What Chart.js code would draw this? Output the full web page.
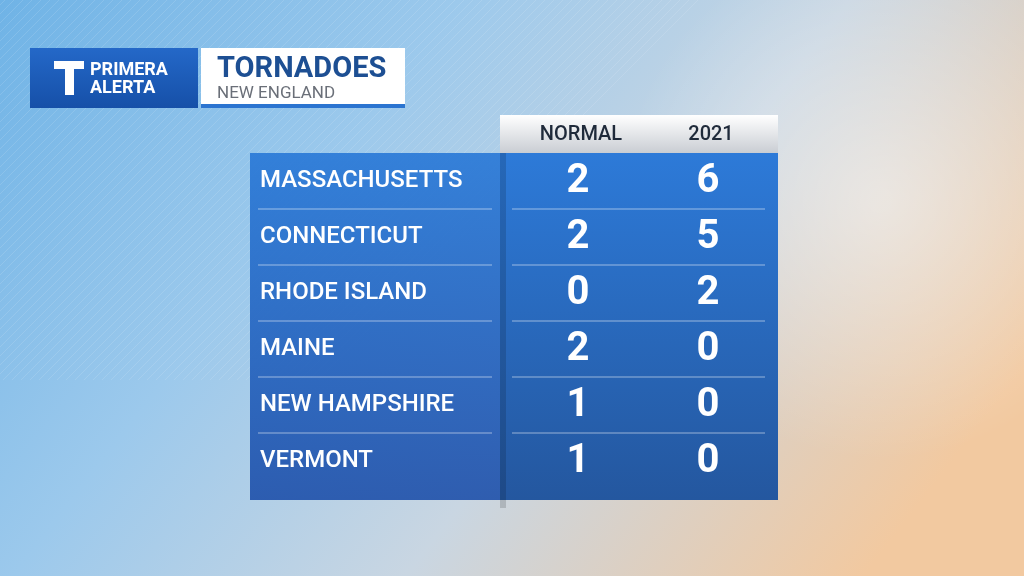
<!DOCTYPE html>
<html><head><meta charset="utf-8">
<script src="https://cdn.jsdelivr.net/npm/chart.js@4/dist/chart.umd.min.js"></script>
<style>html,body{margin:0;padding:0;overflow:hidden}canvas{display:block}</style>
</head><body><canvas id="c" width="1024" height="576"></canvas>
<script>
const states = ["MASSACHUSETTS","CONNECTICUT","RHODE ISLAND","MAINE","NEW HAMPSHIRE","VERMONT"];
const columns = ["NORMAL","2021"];
const normalValues = [2,2,0,2,1,1];
const values2021 = [6,5,2,0,0,0];
const titleText = "TORNADOES";
const subtitleText = "NEW ENGLAND";

const pts = [];
states.forEach((s,i)=>{pts.push({x:columns[0],y:s,v:normalValues[i]});pts.push({x:columns[1],y:s,v:values2021[i]});});

const F = '"Roboto","Liberation Sans",sans-serif';
const PL=250, PM=500, PR=778, PT=153, PB=500;
const deco = {
 id:'deco',
 beforeDraw(ch){
  const c=ch.ctx, W=ch.width, H=ch.height;
  let g=c.createLinearGradient(0,0,W*0.8,H*1.1);
  g.addColorStop(0,'#6fb3e6');g.addColorStop(0.35,'#9cc9ec');g.addColorStop(0.65,'#c9d6e2');g.addColorStop(1,'#f2c9a0');
  c.fillStyle=g;c.fillRect(0,0,W,H);
  let g2=c.createRadialGradient(880,200,10,880,200,260);
  g2.addColorStop(0,'rgba(255,255,255,0.45)');g2.addColorStop(1,'rgba(255,255,255,0)');
  c.fillStyle=g2;c.fillRect(0,0,W,H);
  c.save();c.strokeStyle='rgba(255,255,255,0.12)';c.lineWidth=1;
  for(let k=-400;k<700;k+=9){c.beginPath();c.moveTo(k,0);c.lineTo(k-380,380);c.stroke();}
  c.restore();
  let lg=c.createLinearGradient(30,48,30,108);lg.addColorStop(0,'#2468c8');lg.addColorStop(1,'#1650a8');
  c.fillStyle=lg;c.fillRect(30,48,168,60);
  c.fillStyle='#fff';c.fillRect(54,61,30,8);c.fillRect(65,61,9,34);
  c.font='bold 18px '+F;c.textAlign='left';c.textBaseline='middle';
  c.fillText('PRIMERA',90,70);c.fillText('ALERTA',90,88);
  c.fillStyle='#fff';c.fillRect(201,48,204,60);
  c.fillStyle='#2b74d0';c.fillRect(201,104,204,4);
  c.fillStyle='#1d4f93';c.font='bold 29px '+F;c.fillText(titleText,217,70);
  c.fillStyle='#6a6f78';c.font='17px '+F;c.fillText(subtitleText,217,94);
  let tg=c.createLinearGradient(0,PT,0,PB);tg.addColorStop(0,'rgba(40,120,215,0.9)');tg.addColorStop(1,'rgba(30,80,170,0.9)');
  c.fillStyle=tg;c.fillRect(PL,PT,PM-PL,PB-PT);
  let tg2=c.createLinearGradient(0,PT,0,PB);tg2.addColorStop(0,'#2d7ad8');tg2.addColorStop(1,'#24579f');
  c.fillStyle=tg2;c.fillRect(PM,PT,PR-PM,PB-PT);
  c.fillStyle='rgba(0,0,0,0.15)';c.fillRect(PM,PT,6,PB-PT+8);
  let hg=c.createLinearGradient(0,115,0,PT);hg.addColorStop(0,'#ffffff');hg.addColorStop(1,'#c9cdd3');
  c.fillStyle=hg;c.fillRect(PM,115,PR-PM,PT-115);
  const xs=ch.scales.x, ys=ch.scales.y;
  c.fillStyle='#1f2a3a';c.font='500 20px '+F;c.textAlign='center';
  columns.forEach(col=>c.fillText(col,xs.getPixelForValue(col)+3,135));
  c.strokeStyle='rgba(255,255,255,0.35)';c.lineWidth=1.5;
  states.forEach((s,i)=>{
    const y=ys.getPixelForValue(s);
    c.fillStyle='#fff';c.font='500 24px '+F;c.textAlign='left';c.fillText(s,260,y);
    if(i<states.length-1){const yl=y+(ys.getPixelForValue(states[i+1])-y)/2;
      c.beginPath();c.moveTo(258,yl);c.lineTo(492,yl);c.moveTo(512,yl);c.lineTo(765,yl);c.stroke();}
  });
 },
 afterDatasetsDraw(ch){
  const c=ch.ctx;const m=ch.getDatasetMeta(0);
  c.fillStyle='#fff';c.font='bold 40px '+F;c.textAlign='center';c.textBaseline='middle';
  m.data.forEach((p,i)=>c.fillText(String(pts[i].v),p.x,p.y+1));
 }
};
new Chart(document.getElementById('c'),{
 type:'scatter',
 data:{datasets:[{data:pts,pointRadius:0,pointHoverRadius:0}]},
 options:{responsive:false,animation:false,
  layout:{padding:{left:513,right:251,top:153,bottom:87}},
  plugins:{legend:{display:false},tooltip:{enabled:false}},
  scales:{
   x:{type:'category',labels:columns,offset:true,display:false},
   y:{type:'category',labels:states,offset:true,display:false}
  }},
 plugins:[deco]
});
</script></body></html>
